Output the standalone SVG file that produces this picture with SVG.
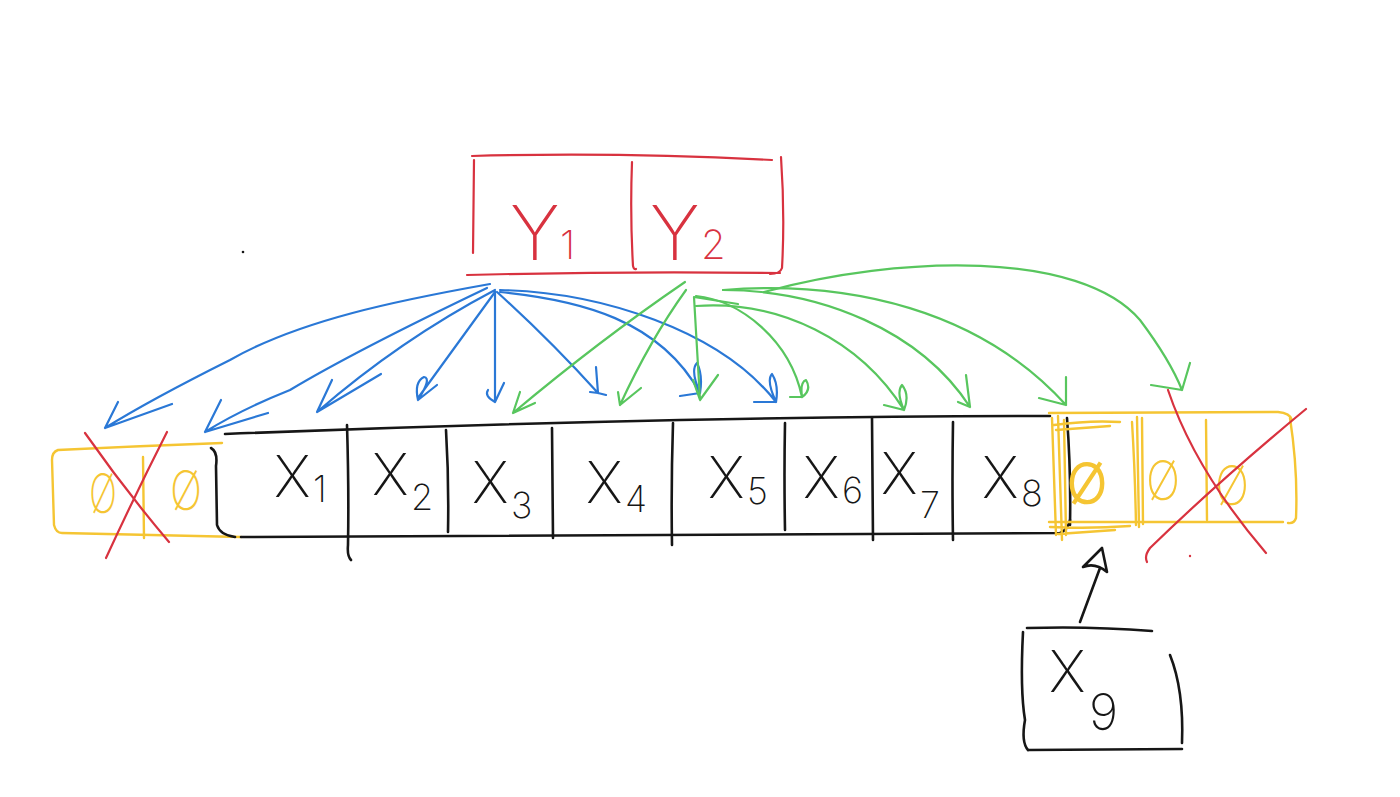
<svg xmlns="http://www.w3.org/2000/svg" width="1400" height="797" viewBox="0 0 1400 797">
<style>
.k{fill:none;stroke:#161616;stroke-width:2.6;stroke-linecap:round;stroke-linejoin:round}
.r{fill:none;stroke:#d8323f;stroke-width:2.2;stroke-linecap:round;stroke-linejoin:round}
.y{fill:none;stroke:#f5c533;stroke-width:2.4;stroke-linecap:round;stroke-linejoin:round}
.b{fill:none;stroke:#2a78d6;stroke-width:2.2;stroke-linecap:round;stroke-linejoin:round}
.g{fill:none;stroke:#58c65e;stroke-width:2.2;stroke-linecap:round;stroke-linejoin:round}
.tx{font-family:Inter,Roboto,"Liberation Sans",sans-serif;font-weight:200;font-size:57px;fill:#161616}
.ts{font-family:Inter,Roboto,"Liberation Sans",sans-serif;font-weight:200;font-size:36px;fill:#161616}
.ty{font-family:Inter,Roboto,"Liberation Sans",sans-serif;font-weight:200;font-size:76px;fill:#d8323f}
.tys{font-family:Inter,Roboto,"Liberation Sans",sans-serif;font-weight:200;font-size:40px;fill:#d8323f}
.tz{font-family:Inter,Roboto,"Liberation Sans",sans-serif;font-weight:200;font-size:54px;fill:#f5c533}
</style>
<rect width="1400" height="797" fill="#ffffff"/>

<g id="node-y">
<path class="r" d="M472,156 Q620,152 772,160"/>
<path class="r" d="M474,160 L473,253"/>
<path class="r" d="M632,162 Q630,215 633,266 Q634,270 636,269"/>
<path class="r" d="M781,157 Q785,215 782,268 Q780,274 770,274"/>
<path class="r" d="M467,275 Q620,271 780,273"/>
<text class="ty" x="510" y="260">Y</text>
<text class="tys" x="560" y="259">1</text>
<text class="ty" x="650" y="260">Y</text>
<text class="tys" x="701" y="259">2</text>
</g>

<g id="node-pad-left">
<path class="y" d="M222,443 Q140,446 58,450 Q52,452 52,460 L54,525 Q56,533 62,533 Q150,535 241,537"/>
<path class="y" d="M143,457 L144,538"/>
<text class="tz" x="89" y="513" textLength="28" lengthAdjust="spacingAndGlyphs">Ø</text>
<text class="tz" x="170" y="510" textLength="32" lengthAdjust="spacingAndGlyphs">Ø</text>
<path class="r" d="M85,433 Q125,490 169,542"/>
<path class="r" d="M167,432 Q135,495 106,558"/>
</g>

<g id="node-x">
<path class="k" d="M225,434 Q450,425 680,420 Q880,416 1050,416"/>
<path class="k" d="M241,537 Q600,535 1060,533 Q1068,530 1070,520"/>
<path class="k" d="M1067,418 Q1071,470 1070,525"/>
<path class="k" d="M211,448 Q218,452 216,466 L217,525 Q220,535 235,537"/>
<path class="k" d="M347,425 Q349,490 348,545 Q347,556 351,560"/>
<path class="k" d="M446,430 Q449,480 448,532"/>
<path class="k" d="M552,428 L553,538"/>
<path class="k" d="M673,423 Q671,485 672,545"/>
<path class="k" d="M785,423 Q784,475 785,530"/>
<path class="k" d="M872,418 L873,540"/>
<path class="k" d="M953,422 Q952,480 953,540"/>
<text class="tx" x="274" y="497">X</text>
<text class="ts" x="313" y="502">1</text>
<text class="tx" x="372" y="495">X</text>
<text class="ts" x="411" y="510">2</text>
<text class="tx" x="472" y="503">X</text>
<text class="ts" x="511" y="518">3</text>
<text class="tx" x="586" y="503">X</text>
<text class="ts" x="625" y="512">4</text>
<text class="tx" x="708" y="498">X</text>
<text class="ts" x="747" y="504">5</text>
<text class="tx" x="803" y="498">X</text>
<text class="ts" x="842" y="503">6</text>
<text class="tx" x="881" y="494">X</text>
<text class="ts" x="920" y="518">7</text>
<text class="tx" x="982" y="498">X</text>
<text class="ts" x="1021" y="506">8</text>
</g>

<g id="node-pad-right">
<path class="y" d="M1049,413 L1278,412 Q1290,413 1292,420"/>
<path class="y" d="M1290,418 Q1298,470 1296,518 Q1294,524 1288,523"/>
<path class="y" d="M1049,522 L1283,522"/>
<path class="y" d="M1137,417 L1139,527 M1142,418 L1143,524 M1132,422 Q1135,470 1136,525"/>
<path class="y" d="M1206,420 L1207,520"/>
<path class="y" d="M1052,418 L1056,535 M1058,416 L1062,540 M1064,420 L1066,535 M1054,425 Q1090,420 1120,422 M1056,430 L1110,426 M1050,527 Q1090,529 1130,526 M1058,534 L1115,530"/>
<text class="tz" x="1067" y="503" textLength="40" lengthAdjust="spacingAndGlyphs" style="stroke:#f5c533;stroke-width:2">Ø</text>
<text class="tz" x="1146" y="500" textLength="34" lengthAdjust="spacingAndGlyphs">Ø</text>
<text class="tz" x="1215" y="505" textLength="34" lengthAdjust="spacingAndGlyphs">Ø</text>
<path class="r" d="M1306,409 Q1220,480 1150,548 Q1144,556 1147,562"/>
<path class="r" d="M1168,390 Q1195,470 1266,553"/>
<circle cx="1190" cy="556" r="1.2" fill="#d8323f"/>
</g>

<g id="node-x9">
<path class="k" d="M1027,628 Q1090,626 1152,631"/>
<path class="k" d="M1023,632 Q1020,690 1025,720 Q1021,742 1028,750"/>
<path class="k" d="M1028,750 L1182,749"/>
<path class="k" d="M1170,655 Q1184,690 1182,743"/>
<text class="tx" x="1049" y="692">X</text>
<text class="ts" x="1089" y="730" style="font-size:50px">9</text>
</g>

<circle cx="243" cy="252" r="1.3" fill="#161616"/>

<g id="connectors">
<path class="b" d="M490,284 C400,300 300,320 230,360 Q150,400 105,428 M105,428 L118,402 M105,428 L172,404"/>
<path class="b" d="M487,288 C420,320 340,360 290,390 Q240,410 205,432 M205,432 L221,400 M205,432 L268,413"/>
<path class="b" d="M495,290 Q400,340 317,412 M317,412 L332,380 M317,412 L381,374"/>
<path class="b" d="M495,292 Q460,340 418,398 M418,400 Q414,382 424,377 Q432,378 418,400 M418,400 L437,385"/>
<path class="b" d="M495,292 L495,400 M495,402 Q484,396 488,390 M495,402 L504,383"/>
<path class="b" d="M497,292 Q550,340 598,393 M598,393 L596,367 M598,393 L590,392 M598,393 L606,395"/>
<path class="b" d="M500,292 C580,300 660,320 700,393 M700,393 Q690,370 697,363 Q703,375 700,393 M700,393 L680,396"/>
<path class="b" d="M500,290 C600,292 720,330 776,402 M776,402 Q766,380 772,374 Q779,385 776,402 M776,402 L754,402"/>

<path class="g" d="M685,282 Q600,340 513,413 M513,413 L520,392 M513,413 L535,403"/>
<path class="g" d="M686,290 Q650,340 620,405 M620,405 L618,392 M620,405 L641,388"/>
<path class="g" d="M694,297 L700,400 M700,400 L718,375 M700,400 L693,380 M694,297 L738,304"/>
<path class="g" d="M696,296 C740,300 790,340 802,397 M802,397 Q800,382 806,380 Q812,390 802,397 M802,397 L790,397"/>
<path class="g" d="M696,306 C780,300 860,340 904,410 M904,410 Q896,392 902,385 Q910,395 904,410 M904,410 L884,405"/>
<path class="g" d="M723,290 C820,290 920,330 970,407 M970,407 L966,375 M970,407 L958,402"/>
<path class="g" d="M723,290 C850,280 980,310 1066,405 M1066,405 L1066,377 M1066,405 L1039,398"/>
<path class="g" d="M764,292 C900,255 1080,250 1140,320 Q1170,360 1182,390 M1182,390 L1190,363 M1182,390 L1151,385"/>

<path class="k" d="M1080,622 L1100,568"/>
<path class="k" d="M1083,567 L1102,548 L1107,572 Q1095,562 1083,567 Z"/>
</g>
</svg>
